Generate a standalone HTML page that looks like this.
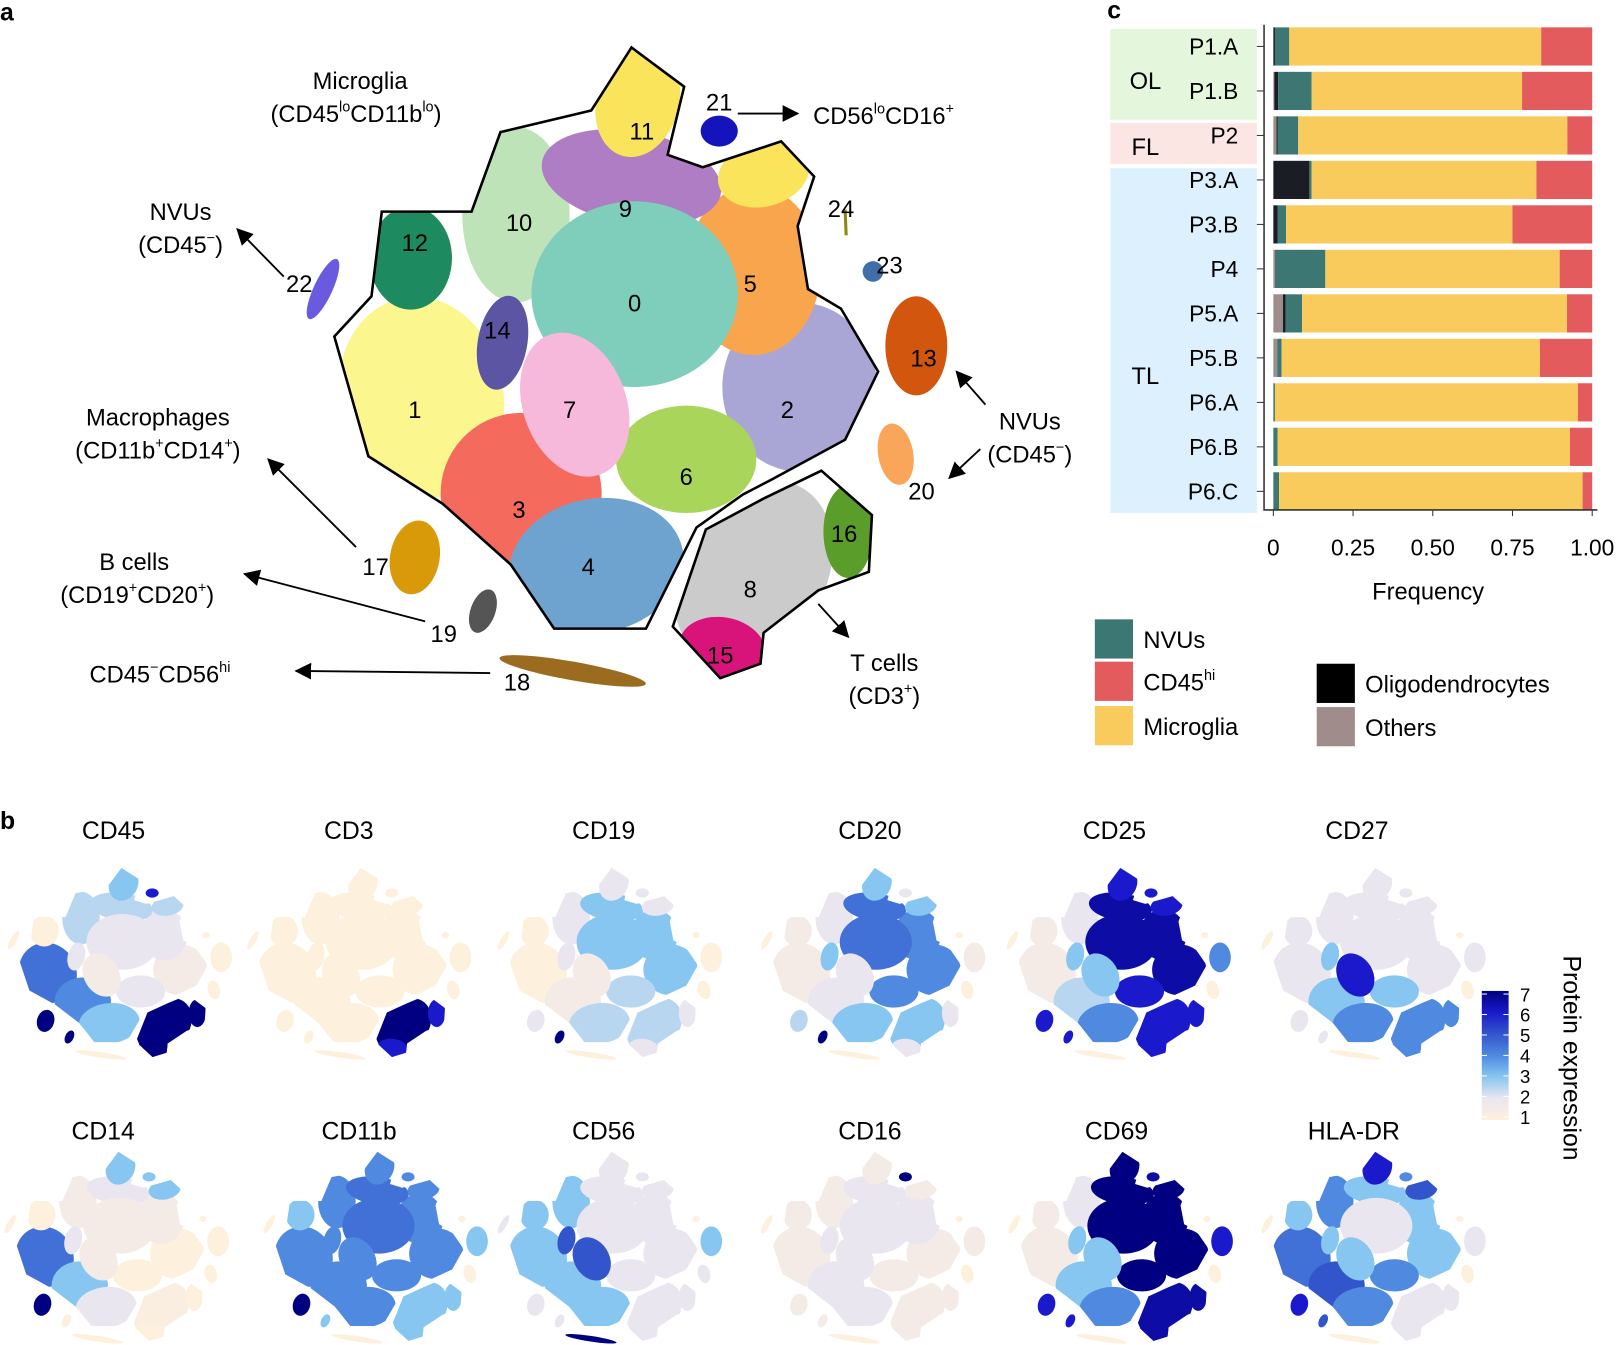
<!DOCTYPE html>
<html><head><meta charset="utf-8"><style>
html,body{margin:0;padding:0;background:#fff;}
svg{display:block;font-family:"Liberation Sans",Arial,sans-serif;}
</style></head><body>
<svg id="fig" width="1618" height="1345" viewBox="0 0 1568 1303" preserveAspectRatio="none" xmlns="http://www.w3.org/2000/svg">
<defs>
<marker id="ah" viewBox="0 0 10 10" refX="9" refY="5" markerWidth="9" markerHeight="9" orient="auto-start-reverse"><path d="M0,0 L10,5 L0,10 z" fill="#000"/></marker>
<clipPath id="gateM" clipPathUnits="userSpaceOnUse"><polygon points="370,205 457,205 485,128 573,107 612,46 663,84 647,150 681,162 757,137 789,171 773,219 783,280 815,299 851,360 819,426 747,465 720,479 675,511 626,609 537,609 495,547 429,488 357,442 324,326 360,287"/></clipPath>
<clipPath id="gateT" clipPathUnits="userSpaceOnUse"><polygon points="796,456 845,499 842,554 793,572 740,613 737,643 698,657 652,607 684,513 740,483"/></clipPath>
</defs>
<text x="0" y="20" font-size="24" font-weight="bold">a</text>
<text x="0" y="803" font-size="24" font-weight="bold">b</text>
<text x="1073" y="18" font-size="24" font-weight="bold">c</text>

<g id="panelA"></g>
<g id="panelB"></g>
<g id="panelC"></g>
</svg>
<script>
// ---------- Panel c data ----------
const samples = ["P1.A","P1.B","P2","P3.A","P3.B","P4","P5.A","P5.B","P6.A","P6.B","P6.C"];
const others    = [0,.003,.01,0,0,.005,.03,.012,0,0,0];
const oligo     = [.005,.012,.003,.113,.014,0,.008,0,0,0,0];
const nvus      = [.045,.105,.065,.007,.026,.158,.052,.014,.005,.013,.018];
const microglia = [.79,.66,.844,.705,.71,.735,.831,.81,.95,.917,.952];
const cd45hi    = [.16,.22,.078,.175,.25,.102,.079,.164,.045,.07,.03];
const xTicks = [0,0.25,0.5,0.75,1];
const xTickLabels = ["0","0.25","0.50","0.75","1.00"];

// ---------- Panel b data (expression per cluster region) ----------
const markers = ["CD45","CD3","CD19","CD20","CD25","CD27","CD14","CD11b","CD56","CD16","CD69","HLA-DR"];
const exCD45 = [2,4.5,1.5,4,3,2,2,1.5,7,2.5,2.5,3,1,1,2,7,7,7,1,7,1,6,1,1,2.5];
const exCD3  = [1,1,1,1,1,1,1,1,7,1,1,1,1,1,1,6,6,1,1,1,1,1,1,1,1];
const exCD19 = [3,1,3,1.5,2.5,3,2.5,1.5,2.5,3,2,2,1,1,2,2,2,2,1,7,1,2,1,1,2];
const exCD20 = [4.5,1.5,4,2,3,4,4,2,3,4.5,2,3,1.5,1.5,3,2,2,2.5,1,7,1,2,1,1,3];
const exCD25 = [6.5,1.5,6.5,2.5,4,6.5,6,3,6,6.5,2,6,1.5,4,3,6,6,6,1,6,1,6,1,1,6];
const exCD27 = [2,2,2,3,4,2,3,6,4,2,2,2,2,2,3,4,4,2,1,2,1,2,1,1,2];
const exCD14 = [1.5,4.5,1,3,2,1.5,1,1.5,1.2,2,1.5,3,1,1,2,1,1,7,1,1,1,3,1,1,3];
const exCD11b= [4.5,4,4,4,4,4,4,4,3,4.5,4,4,3,3,4,3,3,7,1,3,1,4,1,1,4];
const exCD56 = [2,3,2,3,3,2,2,5,2,2,3,2,3,3,5,2,2,2,7,2,2,2,2,1,2];
const exCD16 = [2,1.5,1.5,2,2,2,1.5,2,1.5,2,1.5,1.5,1.5,1.5,2,1.5,1.5,1.5,1,1.5,1,7,1,1,1.5];
const exCD69 = [7,1.5,7,3,4,7,7,3,6.5,7,2,7,1.5,6,3,6.5,6.5,6,1,6,1,6.5,1,1,7];
const exHLA  = [2,4.5,3,5,4,3,4,3,2,3,4,6,3,2,3,2,2,6,1,5,1,4,1,1,5];
const exprSets = [exCD45,exCD3,exCD19,exCD20,exCD25,exCD27,exCD14,exCD11b,exCD56,exCD16,exCD69,exHLA];

const NS="http://www.w3.org/2000/svg";
function mk(tag,attrs,parent){const e=document.createElementNS(NS,tag);for(const k in attrs)e.setAttribute(k,attrs[k]);if(parent)parent.appendChild(e);return e;}

// ---------- Panel a: cluster shapes (layout geometry) ----------
const clusters = [
 {id:"0",c:"#7fcdbb",cx:615,cy:285,rx:100,ry:90,r:0},
 {id:"1",c:"#fbf78e",cx:408,cy:385,rx:80,ry:98,r:-10},
 {id:"2",c:"#a9a6d6",cx:775,cy:375,rx:75,ry:82,r:0},
 {id:"3",c:"#f46b5e",cx:505,cy:478,rx:78,ry:78,r:20},
 {id:"4",c:"#6fa3cf",cx:578,cy:548,rx:85,ry:65,r:-10},
 {id:"5",c:"#f9a54e",cx:730,cy:262,rx:65,ry:82,r:0},
 {id:"6",c:"#a9d55b",cx:665,cy:445,rx:68,ry:52,r:0},
 {id:"7",c:"#f6b9dc",cx:557,cy:392,rx:50,ry:72,r:-20},
 {id:"8",c:"#cbcbcb",cx:730,cy:555,rx:70,ry:95,r:30},
 {id:"9",c:"#af7dc4",cx:612,cy:172,rx:88,ry:45,r:10},
 {id:"10",c:"#bfe3b8",cx:500,cy:208,rx:52,ry:85,r:0},
 {id:"11",c:"#f9e45c",cx:618,cy:98,rx:40,ry:55,r:15},
 {id:"12",c:"#1e8a60",cx:398,cy:250,rx:40,ry:50,r:0},
 {id:"13",c:"#d3560f",cx:888,cy:335,rx:30,ry:48,r:0},
 {id:"14",c:"#5c55a3",cx:487,cy:332,rx:24,ry:46,r:10},
 {id:"15",c:"#d8137a",cx:700,cy:628,rx:42,ry:30,r:10},
 {id:"16",c:"#5a9d2a",cx:822,cy:515,rx:24,ry:45,r:0},
 {id:"17",c:"#d99a0a",cx:402,cy:540,rx:24,ry:36,r:10},
 {id:"18",c:"#9b6b1f",cx:555,cy:650,rx:72,ry:9,r:10},
 {id:"19",c:"#555555",cx:468,cy:592,rx:12,ry:22,r:20},
 {id:"20",c:"#f9a55a",cx:868,cy:440,rx:17,ry:30,r:-10},
 {id:"21",c:"#1414bc",cx:697,cy:127,rx:18,ry:15,r:0},
 {id:"22",c:"#6a5ae0",cx:313,cy:280,rx:9,ry:32,r:25},
 {id:"23",c:"#3f6ea8",cx:846,cy:263,rx:10,ry:10,r:0},
 {id:"Y",c:"#f9e45c",cx:740,cy:168,rx:45,ry:32,r:-15}
];
const orderM=[1,10,2,3,4,6,5,9,0,7,14,12,11,24];
const orderT=[8,16,15];
const orderO=[13,17,18,19,20,21,22,23];
const A=document.getElementById('panelA');
function drawClusters(parent,fillFn,withNames){
  const gm=mk('g',{'clip-path':'url(#gateM)'},parent);
  const gt=mk('g',{'clip-path':'url(#gateT)'},parent);
  [[orderM,gm],[orderT,gt],[orderO,parent]].forEach(pair=>{
    pair[0].forEach(j=>{
      const k=clusters[j];
      const e=mk('ellipse',{cx:k.cx,cy:k.cy,rx:k.rx,ry:k.ry,transform:`rotate(${k.r} ${k.cx} ${k.cy})`,fill:fillFn(k,j)},pair[1]);
      if(withNames){
        
        
      }
    });
  });
}
drawClusters(A,k=>k.c,true);
const l24=mk('line',{x1:819,y1:203,x2:820,y2:228,stroke:"#8a8a10","stroke-width":3},A);


const g1=mk('polygon',{points:"370,205 457,205 485,128 573,107 612,46 663,84 647,150 681,162 757,137 789,171 773,219 783,280 815,299 851,360 819,426 747,465 720,479 675,511 626,609 537,609 495,547 429,488 357,442 324,326 360,287",fill:"none",stroke:"#000","stroke-width":2.5},A);


const g2=mk('polygon',{points:"796,456 845,499 842,554 793,572 740,613 737,643 698,657 652,607 684,513 740,483",fill:"none",stroke:"#000","stroke-width":2.5},A);


const nums=[["0",615,302],["1",402,405],["2",763,405],["3",503,502],["4",570,557],["5",727,283],["6",665,470],["7",552,405],["8",727,579],["9",606,210],["10",503,224],["11",622,135],["12",402,243],["13",895,355],["14",482,328],["15",698,643],["16",818,525],["17",364,557],["18",501,669],["19",430,622],["20",893,484],["21",697,107],["22",290,283],["23",862,265],["24",815,210]];
nums.forEach(n=>{const t=mk('text',{x:n[1],y:n[2],"font-size":23,"text-anchor":"middle"},A);t.textContent=n[0];

});
const ann=[
 [349,86,'Microglia'],[175,213,'NVUs'],[153,412,'Macrophages'],[130,552,'B cells'],[857,650,'T cells'],[998,416,'NVUs']
];
ann.forEach(a=>{const t=mk('text',{x:a[0],y:a[1],"font-size":23,"text-anchor":"middle"},A);t.textContent=a[2];

});
function st(x,y,segs,anchor){
  const t=mk('text',{x:x,y:y,"font-size":23,"text-anchor":anchor||"middle"},A);
  
  
  let up=false;
  segs.forEach(sg=>{const s=mk('tspan',{},t);s.textContent=sg.t;
    if(sg.s&&!up){s.setAttribute('font-size',14);s.setAttribute('dy',-10);up=true;}
    else if(sg.s){s.setAttribute('font-size',14);}
    else if(!sg.s&&up){s.setAttribute('dy',10);up=false;}});
}
st(345,118,[{t:"(CD45"},{t:"lo",s:1},{t:"CD11b"},{t:"lo",s:1},{t:")"}]);
st(175,245,[{t:"(CD45"},{t:"−",s:1},{t:")"}]);
st(153,444,[{t:"(CD11b"},{t:"+",s:1},{t:"CD14"},{t:"+",s:1},{t:")"}]);
st(133,584,[{t:"(CD19"},{t:"+",s:1},{t:"CD20"},{t:"+",s:1},{t:")"}]);
st(155,661,[{t:"CD45"},{t:"−",s:1},{t:"CD56"},{t:"hi",s:1}]);
st(788,120,[{t:"CD56"},{t:"lo",s:1},{t:"CD16"},{t:"+",s:1}],"start");
st(857,682,[{t:"(CD3"},{t:"+",s:1},{t:")"}]);
st(998,448,[{t:"(CD45"},{t:"−",s:1},{t:")"}]);
const arrows=[[275,268,230,222],[345,530,260,445],[412,602,237,556],[475,652,287,650],[715,110,773,110],[955,392,927,360],[950,435,920,463],[793,585,822,617]];
arrows.forEach(a=>{const l=mk('line',{x1:a[0],y1:a[1],x2:a[2],y2:a[3],stroke:"#000","stroke-width":1.8,"marker-end":"url(#ah)"},A);

});

// ---------- Panel b ----------
const cstops=[[1,[253,240,220]],[2,[234,230,240]],[3,[135,198,240]],[4,[79,138,224]],[5,[51,85,204]],[6,[26,26,204]],[7,[0,0,128]]];
function colorOf(v){v=Math.max(1,Math.min(7,v));for(let i=0;i<cstops.length-1;i++){const a=cstops[i],b=cstops[i+1];if(v<=b[0]){const f=(v-a[0])/(b[0]-a[0]);const c=a[1].map((x,j)=>Math.round(x+(b[1][j]-x)*f));return `rgb(${c[0]},${c[1]},${c[2]})`;}}return 'rgb(0,0,128)';}
const B=document.getElementById('panelB');
const mapCx=[110,342,585,840,1078,1325,107,358,585,840,1080,1325];
const titleX=[110,338,585,843,1080,1315,100,348,585,843,1082,1312];
markers.forEach((m,i)=>{
  const row=i<6?0:1;
  const cy=row?1210:935;
  const t=mk('text',{x:titleX[i],y:row?1104:813,"font-size":24,"text-anchor":"middle"},B);t.textContent=m;
  
  
  const g=mk('g',{transform:`translate(${mapCx[i]} ${cy}) scale(0.35 0.30) translate(-590 -360)`},B);
  
  
  const ex=exprSets[i];
  drawClusters(g,(k,j)=>colorOf(ex[j]),false);
});
const grad=mk('linearGradient',{id:"cb",x1:0,y1:1,x2:0,y2:0},document.querySelector('defs'));
cstops.forEach(s=>mk('stop',{offset:((s[0]-1)/6*100)+'%','stop-color':colorOf(s[0])},grad));
const cbTop=960,cbBot=1085;
const cb=mk('rect',{x:1436,y:cbTop,width:26,height:cbBot-cbTop,fill:"url(#cb)"},B);


const cbTicks=[1,2,3,4,5,6,7];
cbTicks.forEach(v=>{const y=cbBot-(v-1)/6*(cbBot-cbTop-6)-3;
 mk('line',{x1:1436,x2:1441,y1:y,y2:y,stroke:"#fff","stroke-width":1},B);
 mk('line',{x1:1457,x2:1462,y1:y,y2:y,stroke:"#fff","stroke-width":1},B);
 const t=mk('text',{x:1473,y:y+7,"font-size":18},B);t.textContent=v;
 
 });
const cbt=mk('text',{x:1515,y:1025,"font-size":24,"text-anchor":"middle",transform:"rotate(90 1515 1025)"},B);
cbt.textContent="Protein expression";



// ---------- Panel c ----------
const C=document.getElementById('panelC');
const x0=1234,x1=1543,yTop=45,pitch=43.1,barH=37;
const xs=v=>x0+v*(x1-x0);
const ys=i=>yTop+i*pitch;
const bgs=[["ol-group",1076,28,116,"#e4f6dc","OL",86],["fl-group",1076,119,159,"#fce6e4","FL",150],["tl-group",1076,163,497,"#ddf0fd","TL",372]];
bgs.forEach(b=>{const r=mk('rect',{x:b[1],y:b[2],width:1218-b[1],height:b[3]-b[2],fill:b[4]},C);
 
 
 const t=mk('text',{x:1110,y:b[6],"font-size":23,"text-anchor":"middle"},C);t.textContent=b[5];
 
 });
const series=[["others",others,"#a08c8a"],["oligodendrocytes",oligo,"#1a1d24"],["nvus",nvus,"#3d7773"],["microglia",microglia,"#f8cb5c"],["cd45hi",cd45hi,"#e35b5d"]];
samples.forEach((s,i)=>{
  let acc=0;
  const cy=ys(i);
  series.forEach(se=>{const v=se[1][i];if(v>0){
    const r=mk('rect',{x:xs(acc),y:cy-barH/2,width:xs(acc+v)-xs(acc),height:barH,fill:se[2]},C);
    
    
  } acc+=v;});
  const t=mk('text',{x:1200,y:cy+8,"font-size":22,"text-anchor":"end"},C);t.textContent=s;
  
  
  mk('line',{x1:1218,x2:1225,y1:cy,y2:cy,stroke:"#333","stroke-width":1},C);
});
const ax=mk('path',{d:`M1225,24 L1225,494 L1548,494`,fill:"none",stroke:"#333","stroke-width":1.5},C);


xTicks.forEach((v,i)=>{mk('line',{x1:xs(v),x2:xs(v),y1:494,y2:500,stroke:"#333"},C);
 const t=mk('text',{x:xs(v),y:538,"font-size":22,"text-anchor":"middle"},C);t.textContent=xTickLabels[i];
 
 });
const xt=mk('text',{x:1384,y:581,"font-size":23,"text-anchor":"middle"},C);xt.textContent="Frequency";


const leg=[["NVUs","#3d7773",1061,600],["CD45hi","#e35b5d",1061,641],["Microglia","#f8cb5c",1061,684],["Oligodendrocytes","#000000",1276,643],["Others","#a08c8a",1276,685]];
leg.forEach(l=>{const r=mk('rect',{x:l[2],y:l[3],width:37,height:38,fill:l[1]},C);
 
 
 const t=mk('text',{x:l[2]+47,y:l[3]+28,"font-size":23},C);
 
 
 if(l[0]==="CD45hi"){const a=mk('tspan',{},t);a.textContent="CD45";const b=mk('tspan',{"font-size":14,dy:-10},t);b.textContent="hi";}
 else t.textContent=l[0];});
</script>
</body></html>
